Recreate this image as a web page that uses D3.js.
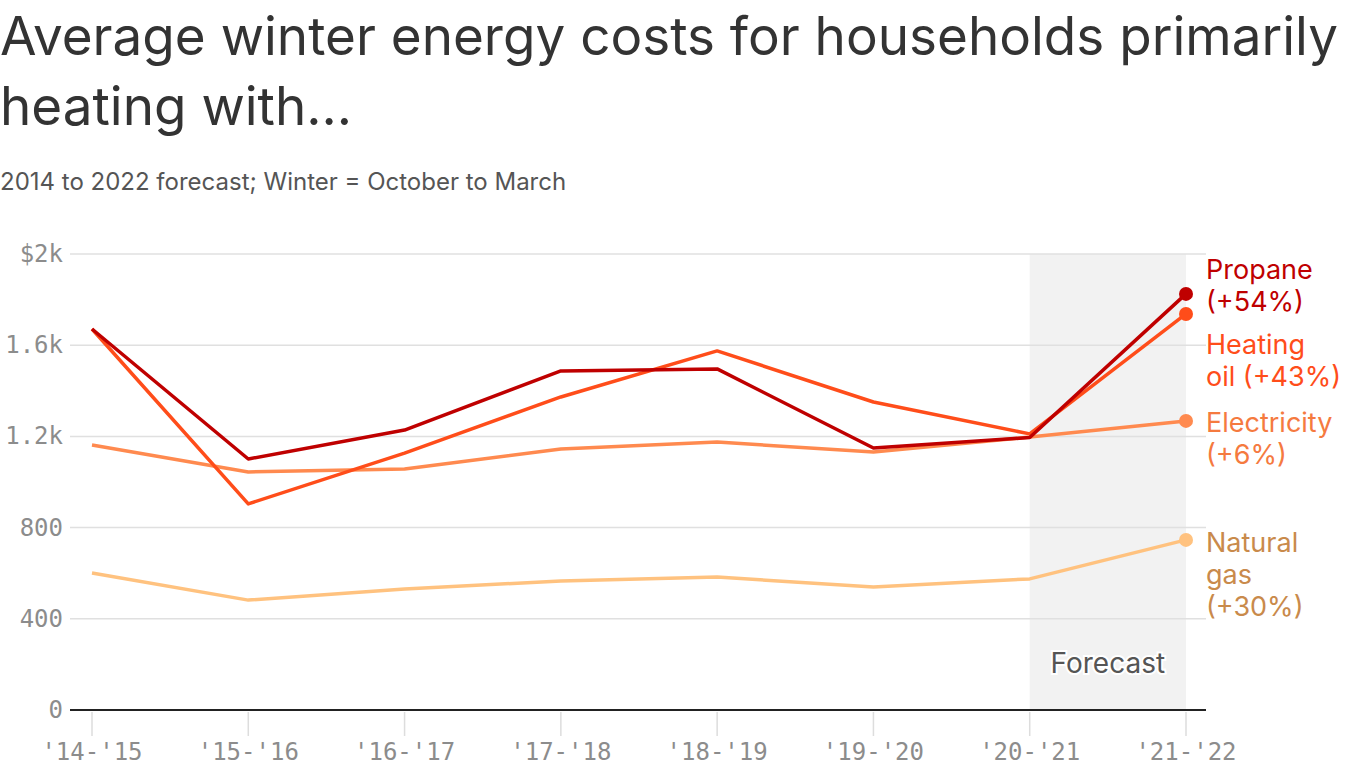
<!DOCTYPE html>
<html>
<head>
    <meta charset="utf-8">
    <title>Winter energy costs</title>
    <script src="https://d3js.org/d3.v7.min.js"></script>
    <style>
        body { margin: 0; background: #fff; font-family: Inter, "Noto Sans", sans-serif; }
        .title { font-size: 53px; fill: #333; }
        .subtitle { font-size: 24px; fill: #555; }
        .tick-label { font-family: "DejaVu Sans Mono", monospace; font-size: 24px; fill: #8c8c8c; }
        .series-label { font-size: 27px; }
    </style>
</head>
<body>
    <div id="chart"></div>
    <script>
        // data
        const seasons = ["'14-'15", "'15-'16", "'16-'17", "'17-'18", "'18-'19", "'19-'20", "'20-'21", "'21-'22"];
        const propane = [1671, 1101, 1228, 1487, 1496, 1149, 1195, 1825];
        const heatingOil = [1671, 904, 1127, 1373, 1575, 1351, 1211, 1737];
        const electricity = [1162, 1044, 1057, 1145, 1175, 1132, 1197, 1268];
        const naturalGas = [601, 482, 531, 566, 583, 539, 575, 746];
        const yTicks = [0, 400, 800, 1200, 1600, 2000];
        const yTickLabels = ["0", "400", "800", "1.2k", "1.6k", "$2k"];

        const series = [
            {name: "Natural gas", values: naturalGas, line: "#ffc27f", text: "#c98a4b", label: ["Natural", "gas", "(+30%)"], ly: 552},
            {name: "Electricity", values: electricity, line: "#ff8a4f", text: "#f57a3f", label: ["Electricity", "(+6%)"], ly: 432},
            {name: "Heating oil", values: heatingOil, line: "#ff4d1a", text: "#ff4d1a", label: ["Heating", "oil (+43%)"], ly: 354},
            {name: "Propane", values: propane, line: "#bf0000", text: "#bf0000", label: ["Propane", "(+54%)"], ly: 279}
        ];

        const W = 1366, H = 768;
        const svg = d3.select("#chart").append("svg")
            .attr("width", W).attr("height", H);

        // titles
        svg.append("text").attr("class", "title").attr("x", 0).attr("y", 55)
            .text("Average winter energy costs for households primarily");
        svg.append("text").attr("class", "title").attr("x", 0).attr("y", 125)
            .text("heating with...");
        svg.append("text").attr("class", "subtitle").attr("x", 0).attr("y", 190)
            .text("2014 to 2022 forecast; Winter = October to March");

        // scales
        const x = d3.scalePoint().domain(seasons).range([92, 1186]);
        const y = d3.scaleLinear().domain([0, 2000]).range([710, 254]);

        // forecast band
        svg.append("rect")
            .attr("x", x(seasons[6])).attr("y", y(2000))
            .attr("width", x(seasons[7]) - x(seasons[6]))
            .attr("height", y(0) - y(2000))
            .attr("fill", "#f2f2f2");

        // gridlines
        const grid = svg.append("g");
        yTicks.forEach((t, i) => {
            grid.append("line")
                .attr("x1", 70).attr("x2", 1206)
                .attr("y1", y(t)).attr("y2", y(t))
                .attr("stroke", t === 0 ? "#222" : "#e0e0e0")
                .attr("stroke-width", t === 0 ? 2 : 1.5);
            grid.append("text")
                .attr("class", "tick-label")
                .attr("x", 63).attr("y", y(t) + 8)
                .attr("text-anchor", "end")
                .text(yTickLabels[i]);
        });

        // x ticks
        seasons.forEach(s => {
            svg.append("line")
                .attr("x1", x(s)).attr("x2", x(s))
                .attr("y1", y(0) + 2).attr("y2", y(0) + 26)
                .attr("stroke", "#ddd").attr("stroke-width", 1.5);
            svg.append("text")
                .attr("class", "tick-label")
                .attr("x", x(s)).attr("y", 760)
                .attr("text-anchor", "middle")
                .text(s);
        });

        // forecast label
        svg.append("text")
            .attr("x", (x(seasons[6]) + x(seasons[7])) / 2).attr("y", 673)
            .attr("text-anchor", "middle")
            .attr("font-size", 28).attr("fill", "#555")
            .attr("stroke", "#fff").attr("stroke-width", 4).attr("paint-order", "stroke")
            .text("Forecast");

        // lines
        const line = d3.line()
            .x((d, i) => x(seasons[i]))
            .y(d => y(d));

        series.forEach(s => {
            svg.append("path")
                .datum(s.values)
                .attr("d", line)
                .attr("fill", "none")
                .attr("stroke", s.line)
                .attr("stroke-width", 3.5)
                .attr("stroke-linejoin", "round");
            svg.append("circle")
                .attr("cx", x(seasons[7]))
                .attr("cy", y(s.values[7]))
                .attr("r", 7)
                .attr("fill", s.line);
            const t = svg.append("text")
                .attr("class", "series-label")
                .attr("fill", s.text);
            s.label.forEach((l, i) => {
                t.append("tspan").attr("x", 1206).attr("y", s.ly + i * 32).text(l);
            });
        });
    </script>
</body>
</html>
